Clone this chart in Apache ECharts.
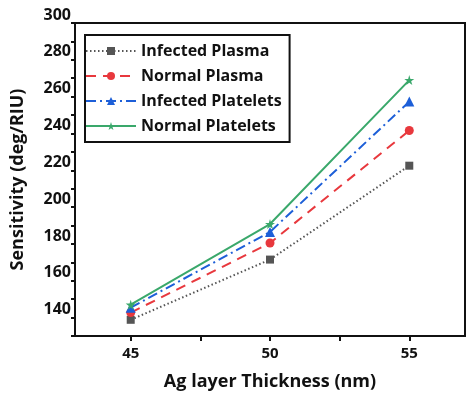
<!DOCTYPE html>
<html>
<head>
<meta charset="utf-8">
<script src="https://cdn.jsdelivr.net/npm/echarts@6/dist/echarts.min.js"></script>
<style>
  html, body { margin: 0; padding: 0; background: #fff; }
  #chart { width: 474px; height: 399px; }
</style>
</head>
<body>
<div id="chart"></div>
<script>
// Ag layer thickness (nm)
const thickness = [45, 50, 55];
// sensitivity values (deg/RIU)
const infectedPlasma = [138.8, 171.5, 222.5];
const normalPlasma = [142.7, 180.5, 241.6];
const infectedPlatelets = [145.4, 186.5, 257.3];
const normalPlatelets = [147, 190.8, 269];
const xLabels = [45, 50, 55];
const xTicks = [45, 47.5, 50, 52.5, 55];

const font = '"Open Sans", "Noto Sans", sans-serif';

function pairs(vals) {
  return thickness.map((t, i) => [t, vals[i]]);
}

const chart = echarts.init(document.getElementById('chart'));
const option = {
  animation: false,
  grid: {
    left: 75, right: 9, top: 23, bottom: 63,
    show: true, borderColor: '#111', borderWidth: 2
  },
  legend: {
    left: 85, top: 35,
    orient: 'vertical',
    itemGap: 9,
    itemWidth: 50,
    itemHeight: 10,
    padding: [8, 8, 8, 0],
    borderColor: '#111',
    borderWidth: 2,
    textStyle: { fontFamily: font, fontWeight: 'bold', fontSize: 16, color: '#111' },
    data: ['Infected Plasma', 'Normal Plasma', 'Infected Platelets', 'Normal Platelets']
  },
  xAxis: {
    type: 'value',
    min: 43, max: 57,
    name: 'Ag layer Thickness (nm)',
    nameLocation: 'middle',
    nameGap: 37,
    nameTextStyle: { fontFamily: font, fontWeight: 'bold', fontSize: 18, color: '#111' },
    splitLine: { show: false },
    axisLine: { lineStyle: { color: '#111', width: 2 } },
    axisTick: { customValues: xTicks, length: 5, lineStyle: { color: '#111', width: 2 } },
    axisLabel: {
      customValues: xLabels,
      margin: 10,
      fontFamily: font, fontWeight: 'bold', fontSize: 15, color: '#111'
    }
  },
  yAxis: {
    type: 'value',
    min: 130, max: 300, interval: 10,
    name: 'Sensitivity (deg/RIU)',
    nameLocation: 'middle',
    nameGap: 48,
    nameTextStyle: { fontFamily: font, fontWeight: 'bold', fontSize: 18, color: '#111' },
    splitLine: { show: false },
    axisLine: { show: true, lineStyle: { color: '#111', width: 2 } },
    axisTick: { length: 4, lineStyle: { color: '#111', width: 2 } },
    axisLabel: {
      margin: 4,
      verticalAlign: 'bottom',
      formatter: v => (v % 20 === 0 ? String(v) : ''),
      fontFamily: font, fontWeight: 'bold', fontSize: 16, color: '#111'
    }
  },
  series: [
    {
      name: 'Infected Plasma', type: 'line', data: pairs(infectedPlasma),
      symbol: 'rect', symbolSize: 8,
      itemStyle: { color: '#555' },
      lineStyle: { color: '#555', width: 2, type: [1.5, 2.5] }
    },
    {
      name: 'Normal Plasma', type: 'line', data: pairs(normalPlasma),
      symbol: 'circle', symbolSize: 9,
      itemStyle: { color: '#e8383d' },
      lineStyle: { color: '#e8383d', width: 2, type: [10, 7] }
    },
    {
      name: 'Infected Platelets', type: 'line', data: pairs(infectedPlatelets),
      symbol: 'triangle', symbolSize: 10,
      itemStyle: { color: '#1d5fd8' },
      lineStyle: { color: '#1d5fd8', width: 2, type: [10, 4, 2, 4] }
    },
    {
      name: 'Normal Platelets', type: 'line', data: pairs(normalPlatelets),
      symbol: 'path://M50,0 L61,35 L98,35 L68,57 L79,91 L50,70 L21,91 L32,57 L2,35 L39,35 Z',
      symbolSize: 10,
      itemStyle: { color: '#3aa86b' },
      lineStyle: { color: '#3aa86b', width: 2 }
    }
  ]
};
chart.setOption(option);
</script>
</body>
</html>
